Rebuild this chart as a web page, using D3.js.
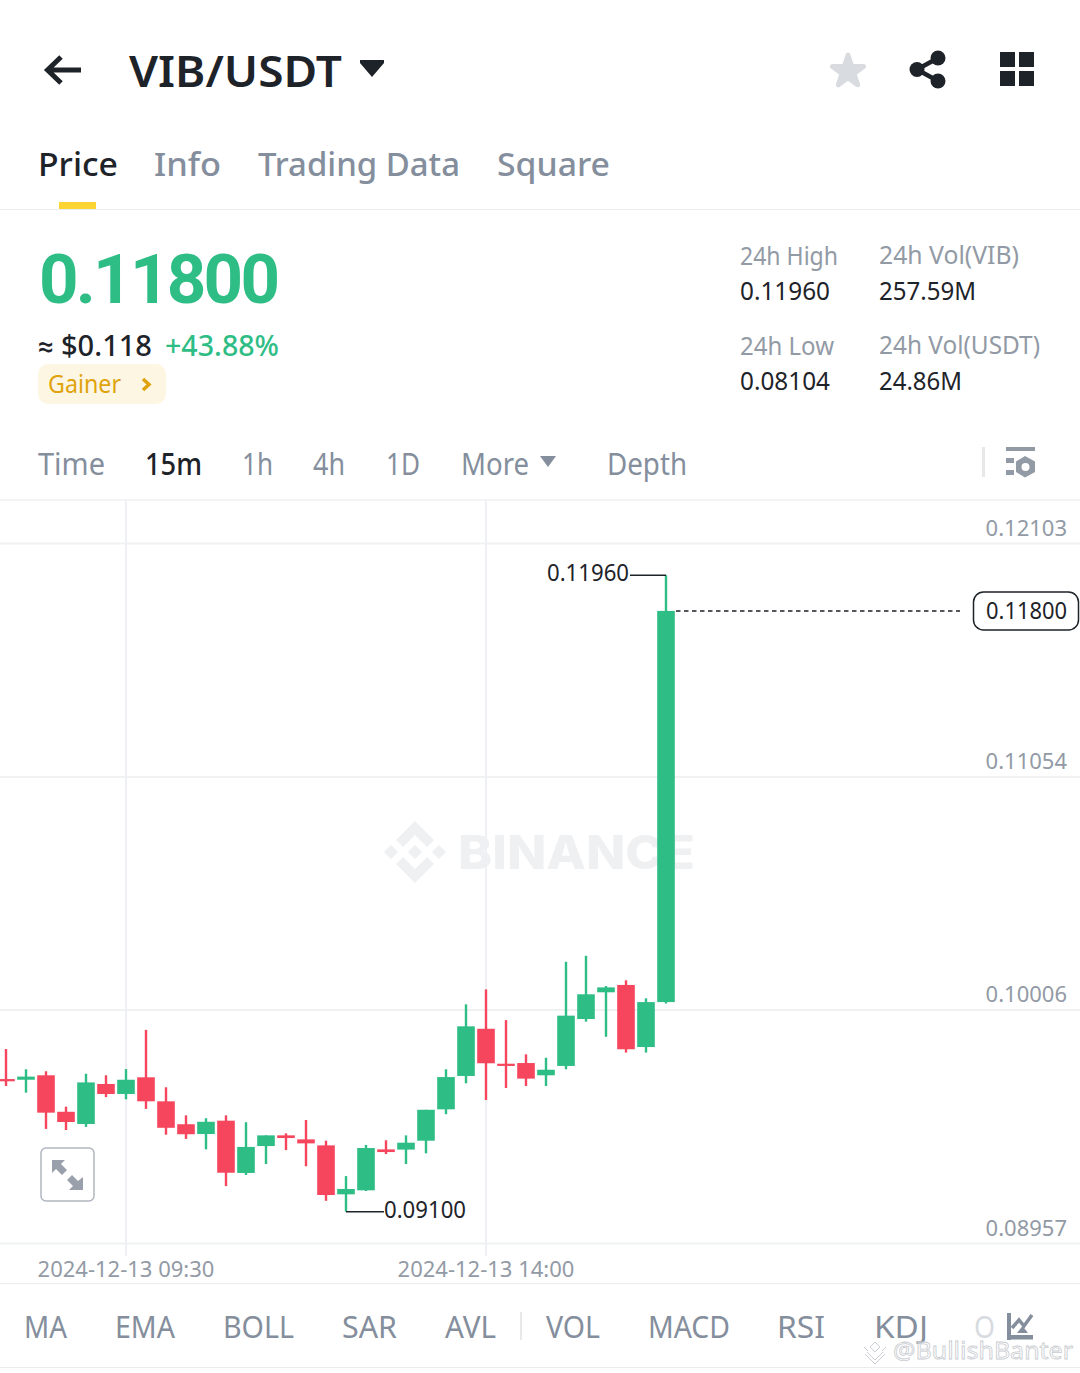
<!DOCTYPE html>
<html><head><meta charset="utf-8">
<script src="https://cdnjs.cloudflare.com/ajax/libs/d3/7.9.0/d3.min.js"></script>
<style>html,body{margin:0;padding:0;background:#fff}svg{display:block}text{font-family:"Noto Sans",Roboto,sans-serif}</style>
</head><body><svg id="c" width="1080" height="1373"></svg>
<script>
const opens =[.09696,.09693,.09713,.09549,.09494,.09674,.09629,.09704,.09596,.09493,.09449,.09509,.09274,.09395,.09443,.09425,.09398,.09178,.09196,.09380,.09379,.09419,.09560,.09710,.09922,.09765,.09768,.09713,.09755,.09966,.10086,.10119,.09840,.10042];
const highs =[.09831,.09740,.09731,.09572,.09720,.09713,.09741,.09917,.09659,.09533,.09520,.09533,.09502,.09443,.09452,.09512,.09419,.09260,.09400,.09421,.09443,.09558,.09740,.10032,.10099,.09961,.09807,.09792,.10223,.10250,.10114,.10140,.10059,.11960];
const lows  =[.09665,.09635,.09472,.09467,.09481,.09615,.09605,.09562,.09446,.09427,.09380,.09215,.09265,.09314,.09377,.09304,.09149,.09100,.09193,.09359,.09314,.09362,.09538,.09677,.09602,.09656,.09665,.09665,.09740,.09954,.09886,.09815,.09815,.10036];
const closes=[.09686,.09707,.09545,.09503,.09681,.09629,.09693,.09596,.09477,.09448,.09504,.09275,.09391,.09443,.09431,.09407,.09175,.09202,.09386,.09368,.09410,.09558,.09705,.09933,.09767,.09755,.09698,.09738,.09981,.10077,.10108,.09830,.10042,.11800];
const priceTicks=[0.12103,0.11054,0.10006,0.08957];
const timeIndex=[6,24];
const timeLabels=["2024-12-13 09:30","2024-12-13 14:00"];
const lastPrice=0.118, highMark=0.1196, lowMark=0.091;

const GREEN="#2ebd85",RED="#f6465d",DARK="#1e2329",GREY="#929aa5",TAB="#848e9c";
const svg=d3.select("#c");
const x=d3.scaleLinear().domain([0,33]).range([6,666]);
const y=d3.scaleLinear().domain([0.12103,0.08957]).range([543.5,1243.5]);
const fmt=d3.format(".5f");
function T(s,x0,x1,base,size,color,weight,fam,adj){
  const t=svg.append("text").attr("x",x0).attr("y",base).attr("font-size",size).attr("fill",color).attr("font-weight",weight||400).text(s);
  if(fam)t.style("font-family",fam);
  t.attr("textLength",x1-x0).attr("lengthAdjust",adj||"spacingAndGlyphs");
  return t;
}
function U(s,x0,x1,base,size,color,weight,fam,adj){return T(s,x0-1,x1,base,size,color,weight,fam,adj);}
function rect(a,b,w,h,f,r){return svg.append("rect").attr("x",a).attr("y",b).attr("width",w).attr("height",h).attr("fill",f).attr("rx",r||0);}
function path(d,f,st,sw){return svg.append("path").attr("d",d).attr("fill",f||"none").attr("stroke",st||"none").attr("stroke-width",sw||0);}

// header
path("M81 70H49M61 57L47.500 70L61 83",null,DARK,5);
T("VIB/USDT",129,342,87,44,DARK,600);
path("M360 60H384V63L372 77L360 63Z",DARK);
svg.append("path").attr("transform","translate(848,71.500)").attr("d",d3.symbol(d3.symbolStar,300)).attr("fill","#d8dbdf").attr("stroke","#d8dbdf").attr("stroke-width",5).attr("stroke-linejoin","round");
path("M938 58L917 69.500L938 81",null,DARK,4.500);
[[938,58],[917,69.5],[938,81]].forEach(p=>svg.append("circle").attr("cx",p[0]).attr("cy",p[1]).attr("r",7.5).attr("fill",DARK));
[[1000,52],[1019,52],[1000,71],[1019,71]].forEach(p=>rect(p[0],p[1],15,15,DARK));

// tabs
U("Price",39,118,176,33,DARK,500);
U("Info",155,221,176,33,TAB,500);
U("Trading Data",259,460,176,33,TAB,500);
U("Square",498,610,176,33,TAB,500);
rect(59,202,37,7,"#fcd535");
rect(0,209,1080,1,"#eaecef");

// price block
U("0.11800",40,280,303,69,GREEN,700,"Roboto,sans-serif","spacing").style("font-variant-numeric","tabular-nums");
T("≈",38,54,356,28,DARK,500);
U("$0.118",62,152,356,29,DARK,500);
U("+43.88%",166,279,356,29,GREEN,500);
rect(38,364,128,40,"#fdf6e3",10);
T("Gainer",48,121,393,25,"#e0a30c",400);
path("M143 379L149 384.500L143 390",null,"#e0a30c",3.500);
U("24h High",741,838,265,25,GREY);
U("0.11960",741,830,300,25,DARK);
U("24h Vol(VIB)",880,1019,264,25,GREY);
U("257.59M",880,976,300,25,DARK);
U("24h Low",741,834,355,25,GREY);
U("0.08104",741,830,390,25,DARK);
U("24h Vol(USDT)",880,1040,354,25,GREY);
U("24.86M",880,962,390,25,DARK);

// interval row
U("Time",39,105,474.500,30,TAB);
U("15m",146,202,474.500,30,DARK,500);
U("1h",243,273,474.500,30,TAB);
U("4h",314,345,474.500,30,TAB);
U("1D",387,420,474.500,30,TAB);
U("More",462,529,474.500,30,TAB);
path("M540 456H556L548 467Z",TAB);
U("Depth",608,687,474.500,30,TAB);
rect(982,447,3,30,"#e6e8ea");
rect(1006,447,29,4,"#929aa5");
rect(1006,458,8,5,"#929aa5");
rect(1006,470,8,5,"#929aa5");
path("M1025 456L1035 461.500V472L1025 477.500L1016 472V461.500Z","#929aa5");
svg.append("circle").attr("cx",1025.500).attr("cy",467).attr("r",4).attr("fill","#fff");
rect(0,499,1080,2,"#f2f3f4");

// watermark
const WM="#eff0f2";
path("M415 821L434 840L427 847L415 835L403 847L396 840Z",WM);
path("M415 883L434 864L427 857L415 869L403 857L396 864Z",WM);
path("M415 845L422 852L415 859L408 852Z",WM);
path("M391 845L398 852L391 859L384 852Z",WM);
path("M439 845L446 852L439 859L432 852Z",WM);
T("BINANCE",458,695,869,47,WM,800,"Inter,sans-serif");

// grid
svg.append("g").selectAll("line").data(priceTicks).join("line")
 .attr("x1",0).attr("x2",1080).attr("y1",d=>y(d)).attr("y2",d=>y(d)).attr("stroke","#f0f1f2").attr("stroke-width",2);
svg.append("g").selectAll("line").data(timeIndex).join("line")
 .attr("x1",d=>x(d)).attr("x2",d=>x(d)).attr("y1",501).attr("y2",1256).attr("stroke","#eef0f3").attr("stroke-width",2);

// candles
const cs=opens.map((o,i)=>({i,o,h:highs[i],l:lows[i],c:closes[i]}));
const col=d=>d.c>=d.o?GREEN:RED;
const g=svg.append("g");
g.selectAll("line").data(cs).join("line")
 .attr("x1",d=>x(d.i)).attr("x2",d=>x(d.i)).attr("y1",d=>y(d.h)).attr("y2",d=>y(d.l)).attr("stroke",col).attr("stroke-width",2.4);
g.selectAll("rect").data(cs).join("rect")
 .attr("x",d=>x(d.i)-8.8).attr("width",17.6)
 .attr("y",d=>y(Math.max(d.o,d.c))).attr("height",d=>Math.max(2,Math.abs(y(d.o)-y(d.c)))).attr("fill",col);

// y labels
svg.append("g").selectAll("text").data(priceTicks).join("text")
 .attr("x",1067).attr("y",d=>y(d)-8).attr("text-anchor","end").attr("font-size",22).attr("fill",GREY).text(fmt);
// x labels
svg.append("g").selectAll("text").data(timeIndex).join("text")
 .attr("x",d=>x(d)).attr("y",1277).attr("text-anchor","middle").attr("font-size",22).attr("fill",GREY).text((d,i)=>timeLabels[i]);

// hi/lo markers
const hiY=y(highMark),loY=y(lowMark);
path(`M630 ${hiY}H${x(33)}`,null,DARK,1.5);
T(fmt(highMark),547,629,hiY+6,23,DARK);
path(`M${x(17)} ${loY}H384`,null,DARK,1.5);
T(fmt(lowMark),384,466,loY+6,23,DARK);

// last price
const lastY=y(lastPrice);
svg.append("line").attr("x1",676).attr("x2",960).attr("y1",lastY).attr("y2",lastY).attr("stroke",DARK).attr("stroke-width",1.5).attr("stroke-dasharray","4.500 3.500");
rect(973.500,592,105,38,"#fff",10).attr("stroke",DARK).attr("stroke-width",1.5);
T(fmt(lastPrice),986,1067,lastY+8,23,DARK);

// expand button
rect(41,1148,53,53,"#fff",5).attr("stroke","#b0b5bf").attr("stroke-width",1.5);
path("M52 1160H65L61 1164L67 1170L62 1175L56 1169L52 1173Z","#9aa0ab");
path("M83 1190H69L73 1186L67 1180L72 1175L78 1181L83 1177Z","#9aa0ab");

// bottom row
rect(0,1283,1080,1,"#eaecef");
[["MA",25,67],["EMA",116,175],["BOLL",224,294],["SAR",343,397],["AVL",446,496],["VOL",547,600],["MACD",649,730],["RSI",778,825],["KDJ",875,928]].forEach(a=>U(a[0],a[1],a[2],1338,30,TAB));
U("O",975,995,1338,30,"#d8dbe0");
rect(520,1312,2,28,"#e6e8ea");
rect(1007,1313,4,27,"#848e9c");
rect(1007,1335,26,4.500,"#848e9c");
path("M1012 1328L1019 1320L1024 1326L1032 1315",null,"#848e9c",3.500);
path("M1017 1333H1028L1022.500 1326Z","#848e9c");
rect(0,1367,1080,1,"#eaecef");

// credit
const WS="#c9ccd1";
path("M875 1342L880 1347L875 1352L870 1347ZM864 1347L868 1351M886 1347L882 1351M875 1364L865 1354M875 1364L885 1354M867 1352L875 1360L883 1352",null,WS,1);
T("@BullishBanter",893,1073,1359,24,"#fff").attr("fill-opacity",0.5).attr("stroke",WS).attr("stroke-width",0.8);
</script></body></html>
